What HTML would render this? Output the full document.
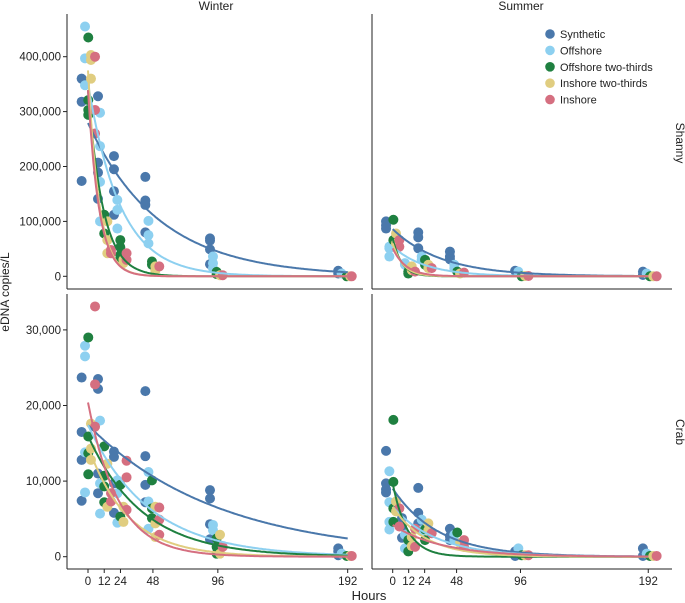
<!DOCTYPE html>
<html><head><meta charset="utf-8">
<style>
html,body{margin:0;padding:0;background:#fff;}
svg{display:block;font-family:"Liberation Sans",Arial,sans-serif;}
</style></head>
<body>
<svg id="chart" width="685" height="603" viewBox="0 0 685 603" xmlns="http://www.w3.org/2000/svg">
<g id="axes"></g>
<g id="marks"></g>
<g id="legend"></g>
</svg>
<script>
const seriesNames = ["Synthetic","Offshore","Offshore two-thirds","Inshore two-thirds","Inshore"];
const seriesColors = ["#4a78ab","#8dd0f0","#1f8040","#e0cd80","#d56f80"];
const xTicks = [0,12,24,48,96,192];
const yTicksShanny = [0,100000,200000,300000,400000];
const yTicksCrab = [0,10000,20000,30000];
// points: [hour (as plotted), value in thousands]
const winterShanny = [
 [[-4.7,173.6],[-4.7,360],[-4.7,318],[7.4,328],[7.4,207],[7.4,189],[7.4,141],[19.2,219],[19.2,195],[19.2,155],[19.2,112],[42.4,181],[42.4,138],[42.4,130],[42.4,80],[90.2,69],[90.2,65],[90.2,49],[90.2,22],[185,10],[185,5]],
 [[-2.2,455],[-2.2,397],[-2.2,348],[8.9,298],[8.9,237],[8.9,172],[8.9,100],[21.7,139],[21.7,121],[21.7,87],[44.7,101],[44.7,75],[44.7,60],[92.4,36],[92.4,24],[92.4,15],[187.5,5]],
 [[0.2,435],[0.2,321],[0.2,303],[0.2,294],[12,112],[12,78],[23.9,66],[23.9,53],[23.9,39],[23.9,33],[47.3,27],[47.3,21],[95.1,8],[95.1,4],[191.3,0]],
 [[2.2,403],[2.2,394],[2.2,360],[14.3,100],[14.3,66],[14.3,42],[26.2,30],[26.2,24],[49.8,18],[49.8,10],[97.6,2],[193.8,0]],
 [[5.2,400],[5.2,303],[5.2,260],[17,48],[17,42],[28.5,42],[28.5,30],[52.7,18],[99.6,2],[195,0]]
];
const summerShanny = [
 [[-5,100],[-5,93],[-5,87],[19.2,80],[19.2,71],[19.2,51],[43,45],[43,36],[43,31],[92,10],[188,8.5],[188,2.4]],
 [[-2.5,54],[-2.5,51],[-2.5,36],[9.2,24],[9.2,21],[21.8,36],[21.8,30],[46.3,21],[46.3,15],[94.4,8.5],[190.8,5]],
 [[0.5,103],[0.5,66],[11.7,8.5],[11.7,5],[24.3,30],[24.3,21],[48.5,8.5],[96.9,0],[193.3,0]],
 [[2.5,78],[2.5,60],[14.3,18],[14.3,11],[26.8,21],[26.8,15],[50.6,5],[99.4,0.6],[195.8,0]],
 [[5,66],[5,54],[16.8,8.5],[29.3,15],[53.6,6.7],[102,0.6],[198.3,0]]
];
const winterCrab = [
 [[-4.7,23.7],[-4.7,16.5],[-4.7,12.8],[-4.7,7.4],[7.4,23.5],[7.4,22.2],[7.4,11],[7.4,8.4],[19.2,13.9],[19.2,13.2],[19.2,9.7],[19.2,5.8],[42.4,21.9],[42.4,13.3],[42.4,9.5],[42.4,7.2],[90.2,8.8],[90.2,7.7],[90.2,4.3],[90.2,2.3],[185,1.1],[185,0.7],[185,0.2]],
 [[-2.2,27.9],[-2.2,26.5],[-2.2,13.8],[-2.2,8.5],[8.9,18],[8.9,9.7],[8.9,5.7],[21.7,10.1],[21.7,8.4],[21.7,4.5],[44.7,11.2],[44.7,7.3],[44.7,3.7],[92.4,4.2],[92.4,3.5],[187.5,0.4]],
 [[0.2,29],[0.2,15.9],[0.2,13.7],[0.2,10.9],[12,14.6],[12,10.7],[12,9.3],[12,7.2],[23.9,9.5],[23.9,5.3],[47.3,10.1],[47.3,6.4],[47.3,5.1],[95.1,2.4],[95.1,1.3],[95.1,0.4],[191.3,0.1]],
 [[2.2,17.6],[2.2,14.3],[2.2,12.8],[14.3,12.3],[14.3,6.6],[26.2,6.6],[26.2,4.6],[49.8,6.6],[49.8,4.4],[49.8,2.6],[97.6,2.9],[97.6,0.4],[193.8,0.1]],
 [[5.2,33.1],[5.2,22.8],[5.2,17.2],[17,8.4],[17,7.3],[28.5,12.7],[28.5,10.5],[28.5,6.2],[52.7,6.5],[52.7,4.9],[52.7,2.9],[99.6,1.3],[195,0.1]]
];
const summerCrab = [
 [[-5,14],[-5,9.7],[-5,8.9],[-5,8.5],[7,5.1],[7,4],[7,2.5],[19.2,9.1],[19.2,5.8],[19.2,4.4],[19.2,4],[43,3.7],[43,2.7],[43,2.2],[92,0.7],[92,0.1],[188,1.1],[188,0.1]],
 [[-2.5,11.3],[-2.5,7.2],[-2.5,4.6],[-2.5,3.6],[9.2,2.9],[9.2,1.1],[21.8,4.9],[21.8,3.5],[46.3,2.9],[46.3,2.2],[94.4,1.1],[190.8,0.4]],
 [[0.5,18.1],[0.5,9.9],[0.5,6.4],[0.5,4.6],[11.7,2.2],[11.7,0.7],[24.3,3.6],[24.3,2.2],[48.5,3.2],[96.9,0.2],[193.3,0.1]],
 [[2.5,7.3],[2.5,6],[14.3,2.6],[14.3,1.4],[26.8,4.4],[26.8,3.5],[50.6,1.8],[99.4,0.2],[195.8,0.1]],
 [[5,6.4],[5,4],[16.8,3.7],[16.8,1.3],[29.3,3.1],[53.6,2.2],[53.6,1.3],[102,0.2],[198.3,0.1]]
];
// fitted exponential decay: start value (thousands) and rate per hour
const winterShannyA = [279,351,339,375,339];
const winterShannyK = [0.019,0.042,0.09,0.124,0.123];
const summerShannyA = [86,54,69,60,51];
const summerShannyK = [0.027,0.04,0.15,0.13,0.1];
const winterCrabA = [17.4,17.4,16,14.6,20.4];
const winterCrabK = [0.0103,0.022,0.0247,0.034,0.0445];
const summerCrabA = [9,6.6,9.7,6.6,4.2];
const summerCrabK = [0.029,0.03,0.09,0.04,0.027];

const NS="http://www.w3.org/2000/svg";
function mk(tag,attrs,parent){const e=document.createElementNS(NS,tag);for(const k in attrs)e.setAttribute(k,attrs[k]);parent.appendChild(e);return e;}
const xLeft=h=>88+h*1.3525, xRight=h=>392.7+h*1.331;
const yTop=v=>276.3-v/100000*54.9, yBot=v=>556.7-v/10000*75.6;
const axes=document.getElementById('axes'), marks=document.getElementById('marks'), legend=document.getElementById('legend');

const panels=[
 {name:'winter-shanny',x:xLeft,y:yTop,x0:67,x1:363,y0:14,y1:289,pts:winterShanny,A:winterShannyA,K:winterShannyK,scale:1000,yt:yTicksShanny,showY:true,showX:false},
 {name:'summer-shanny',x:xRight,y:yTop,x0:372,x1:672,y0:14,y1:289,pts:summerShanny,A:summerShannyA,K:summerShannyK,scale:1000,yt:yTicksShanny,showY:false,showX:false},
 {name:'winter-crab',x:xLeft,y:yBot,x0:67,x1:363,y0:294,y1:569,pts:winterCrab,A:winterCrabA,K:winterCrabK,scale:1000,yt:yTicksCrab,showY:true,showX:true},
 {name:'summer-crab',x:xRight,y:yBot,x0:372,x1:672,y0:294,y1:569,pts:summerCrab,A:summerCrabA,K:summerCrabK,scale:1000,yt:yTicksCrab,showY:false,showX:true}
];
panels.forEach(p=>{
 const g=mk('g',{},axes);
 
 
 const ya=mk('line',{x1:p.x0,y1:p.y0,x2:p.x0,y2:p.y1,stroke:'#222','stroke-width':1},g);
 
 
 const xa=mk('line',{x1:p.x0,y1:p.y1,x2:p.x1,y2:p.y1,stroke:'#222','stroke-width':1},g);
 
 
 if(p.showY){p.yt.forEach(v=>{const yy=p.y(v);
  mk('line',{x1:p.x0-4,y1:yy,x2:p.x0,y2:yy,stroke:'#222'},g);
  const t=mk('text',{x:p.x0-6,y:yy+4,'text-anchor':'end','font-size':11.5,fill:'#222'},g);
  t.textContent=v.toLocaleString('en-US');
  
  });}
 if(p.showX){xTicks.forEach(h=>{const xx=p.x(h);
  mk('line',{x1:xx,y1:p.y1,x2:xx,y2:p.y1+4,stroke:'#222'},g);
  const t=mk('text',{x:xx,y:p.y1+16,'text-anchor':'middle','font-size':11.5,fill:'#222'},g);
  t.textContent=h;
  
  });}
 const mg=mk('g',{},marks);
 
 
 p.pts.forEach((arr,si)=>{arr.forEach(d=>{
  const c=mk('circle',{cx:p.x(d[0]),cy:p.y(d[1]*p.scale),r:5,fill:seriesColors[si]},mg);
  
  });});
 p.A.forEach((a,si)=>{let dstr='';
  for(let h=0;h<=192;h+=1){const v=a*Math.exp(-p.K[si]*h)*p.scale;dstr+=(h?'L':'M')+p.x(h).toFixed(1)+','+p.y(v).toFixed(1);}
  const l=mk('path',{d:dstr,fill:'none',stroke:seriesColors[si],'stroke-width':2},mg);
  
  });
});
function label(txt,x,y,size,name,rot){const t=mk('text',{x:x,y:y,'text-anchor':'middle','font-size':size,fill:'#222'},axes);
 if(rot)t.setAttribute('transform','rotate('+rot+' '+x+' '+y+')');
 t.textContent=txt;
 
 }
label('Winter',216,10,12,'strip-winter');
label('Summer',521,10,12,'strip-summer');
label('Shanny',676,143,12,'strip-shanny',90);
label('Crab',676,432,12,'strip-crab',90);
label('Hours',369,600,13,'x-axis-title');
label('eDNA copies/L',9,292,12,'y-axis-title',-90);
seriesNames.forEach((n,i)=>{const yy=34+i*16.4;
 const c=mk('circle',{cx:550,cy:yy,r:4.8,fill:seriesColors[i]},legend);
 
 
 const t=mk('text',{x:560,y:yy+4,'font-size':11,fill:'#222'},legend);
 t.textContent=n;
 
 });
</script>
</body></html>
